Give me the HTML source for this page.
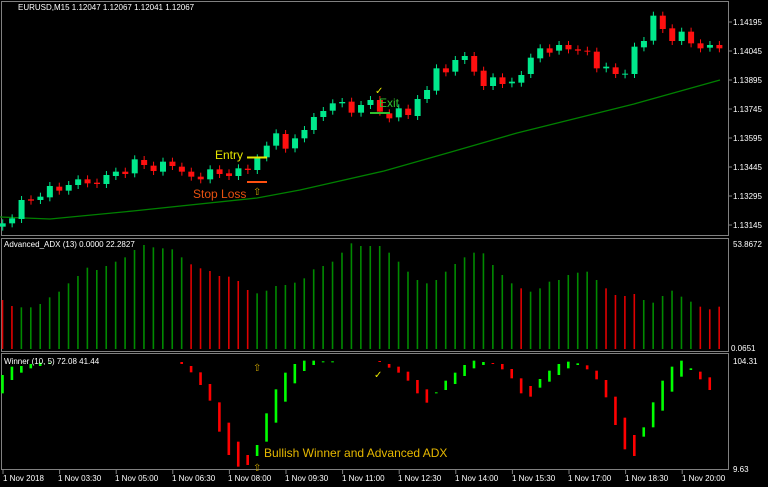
<!DOCTYPE html>
<html><head><meta charset="utf-8"><style>
html,body{margin:0;padding:0;background:#000;width:768px;height:487px;overflow:hidden}
svg{display:block;font-family:"Liberation Sans",sans-serif}
</style></head><body>
<svg id="s" width="768" height="487" viewBox="0 0 768 487" xmlns="http://www.w3.org/2000/svg">
<rect width="768" height="487" fill="#000"/>
<g fill="none" stroke="#808080" stroke-width="1">
<rect x="1.5" y="1.5" width="727" height="234"/>
<rect x="1.5" y="238.5" width="727" height="113"/>
<rect x="1.5" y="353.5" width="727" height="116"/>
</g>
<g id="g"></g>
<g font-size="8" fill="#fff">
<text x="18" y="10">EURUSD,M15  1.12047 1.12067 1.12041 1.12067</text>
<text x="4" y="247">Advanced_ADX (13) 0.0000 22.2827</text>
<text x="4" y="364">Winner (10, 5)  72.08 41.44</text>
<text x="733" y="25">1.14195</text><text x="733" y="54">1.14045</text>
<text x="733" y="83">1.13895</text><text x="733" y="112">1.13745</text>
<text x="733" y="141">1.13595</text><text x="733" y="170">1.13445</text>
<text x="733" y="199">1.13295</text><text x="733" y="228">1.13145</text>
<text x="733" y="247">53.8672</text><text x="731" y="351">0.0651</text>
<text x="733" y="364">104.31</text><text x="733" y="472">9.63</text>
<text x="3" y="481">1 Nov 2018</text><text x="58" y="481">1 Nov 03:30</text>
<text x="115" y="481">1 Nov 05:00</text><text x="172" y="481">1 Nov 06:30</text>
<text x="228" y="481">1 Nov 08:00</text><text x="285" y="481">1 Nov 09:30</text>
<text x="342" y="481">1 Nov 11:00</text><text x="398" y="481">1 Nov 12:30</text>
<text x="455" y="481">1 Nov 14:00</text><text x="512" y="481">1 Nov 15:30</text>
<text x="568" y="481">1 Nov 17:00</text><text x="625" y="481">1 Nov 18:30</text>
<text x="682" y="481">1 Nov 20:00</text>
</g>
<text x="215" y="159" font-size="12" fill="#e6e600">Entry</text>
<text x="193" y="198" font-size="12" fill="#e85010">Stop Loss</text>
<text x="379" y="107" font-size="12" fill="#30c030">Exit</text>
<text x="264" y="457" font-size="12" fill="#e6b800">Bullish Winner and Advanced ADX</text>
<g font-size="10" fill="#c8a000">
<text x="253" y="195">⇧</text><text x="253" y="371">⇧</text><text x="253" y="471">⇧</text>
<text x="375" y="94" fill="#e6e600">✓</text><text x="374" y="378" fill="#e6e600">✓</text>
</g>
</svg>
<script>
var g=document.getElementById('g'),h='';
function L(x1,y1,x2,y2,c,w){h+='<line x1="'+x1+'" y1="'+y1+'" x2="'+x2+'" y2="'+y2+'" stroke="'+c+'" stroke-width="'+(w||1)+'"/>';}
function R(x,y,w,hh,c){h+='<rect x="'+x+'" y="'+y+'" width="'+w+'" height="'+Math.max(hh,1)+'" fill="'+c+'"/>';}
// ticks
for(var i=0;i<13;i++){var tx=3+i*56.6;L(tx,470,tx,474,'#808080');}
for(var j=0;j<8;j++){var ty=22+j*29;L(729,ty,732,ty,'#808080');}
// MA
h+='<polyline fill="none" stroke="#008000" stroke-width="1.3" points="0,217 50,219 133,211 257,198 300,190 384,171 451,152 517,133 634,104 720,80"/>';
// candles zoom coords: [top,bottom,color] (y*1/3)
var c1=[[670,680,1],[655,670,1],[600,657,1],[598,602,0],[590,600,1],[558,592,1],[560,572,0],[555,572,1],[538,555,1],[538,550,0],[548,552,0],[525,552,1],[515,528,1],[515,522,0],[478,520,1],[480,495,0],[497,513,0],[485,515,1],[485,498,0],[500,515,0],[515,530,0],[530,538,0],[508,538,1],[508,522,0],[520,528,0],[505,528,1],[506,510,0],[475,510,1],[437,472,1],[400,437,1],[402,446,0],[415,445,1],[390,415,1],[351,390,1],[333,351,1],[310,332,1],[306,310,1],[305,338,0],[315,338,1],[300,315,1],[300,335,0]];
var c2=[[340,355,0],[325,352,1],[326,345,0],[297,348,1],[270,297,1],[205,272,1],[205,217,0],[180,215,1],[168,180,1],[168,215,0],[212,258,0],[232,258,1],[232,252,0],[245,250,1],[225,248,1],[173,222,1],[145,175,1],[145,158,0],[135,152,1],[135,148,0],[148,152,0],[152,154,0],[155,205,0],[200,205,1],[202,222,0],[221,223,1],[140,222,1],[123,142,1],[47,122,1],[47,87,0],[85,123,0],[95,123,1],[95,130,0],[130,145,0],[135,143,1],[135,145,0]];
var all=c1.concat(c2);
for(var k=0;k<all.length;k++){var x=2.7+k*9.43,a=all[k],col=a[2]?'#00e88c':'#ff1010',t=a[0]/3,b=a[1]/3;
L(x,t-4,x,b+4,col);R(x-3,t,6,b-t,col);}
// entry/SL/exit lines
L(247,157.5,267,157.5,'#e6e600',2);L(247,182,267,182,'#ff5010',2);L(370,113,390,113,'#30c030',2);
// ADX
var ad=[[180,0],[198,0],[202],[202],[192],[172],[155],[130],[108],[83],[90],[78],[65],[52],[30],[15],[22],[25],[28],[52],[73,0],[85,0],[93,0],[108,0],[110,0],[123,0],[150,0],[160],[152],[138],[135],[128],[115],[88],[78],[65],[38],[10],[18],[18],[18],[38],[65],[95],[120],[130],[120],[95],[72],[52],[38],[40],[75],[105],[130],[145,0],[155],[145],[125],[120],[105],[98],[95],[120],[145,0],[165,0],[168,0],[162,0],[180],[188],[168],[152],[170],[185],[200,0],[208,0],[200,0]];
for(k=0;k<ad.length;k++){var x=2.5+k*9.43,col=(ad[k].length>1)?'#e00000':'#008a00';R(x-0.8,240+ad[k][0]/3,1.6,349-(240+ad[k][0]/3),col);}
// Winner
var w={0:[405,460,1],1:[380,420,1],2:[378,398,1],3:[372,385,1],4:[368,378,1],5:[368,372,1],19:[366,372,0],20:[378,397,0],21:[397,435,0],22:[432,482,0],23:[487,575,0],24:[548,645,0],25:[605,680,0],26:[645,675,0],27:[615,648,1],28:[520,605,1],29:[448,548,1],30:[398,485,1],31:[372,430,1],32:[362,393,1],33:[362,375,1],34:[364,366,1],35:[364,366,1],40:[363,366,0],41:[372,383,0],42:[380,398,0],43:[395,422,0],44:[420,460,0],45:[448,488,0],46:[457,460,1],47:[422,450,1],48:[398,432,1],49:[375,408,1],50:[362,385,1],51:[366,375,1],52:[369,372,0],53:[372,388,0],54:[387,415,0],55:[415,460,0],56:[438,470,0],57:[417,443,1],58:[392,425,1],59:[372,405,1],60:[365,385,1],61:[370,375,1],62:[376,388,0],63:[392,418,0],64:[420,472,0],65:[470,555,0],66:[533,628,0],67:[585,648,0],68:[562,590,1],69:[487,562,1],70:[422,512,1],71:[380,455,1],72:[362,410,1],73:[385,390,1],74:[395,418,0],75:[412,450,0]};
for(k in w){var x=2.5+k*9.43,a=w[k],t=240+a[0]/3,b=240+a[1]/3;R(x-1.3,t,2.6,b-t,a[2]?'#00ff00':'#ff0000');}
g.innerHTML=h;
</script>
</body></html>
